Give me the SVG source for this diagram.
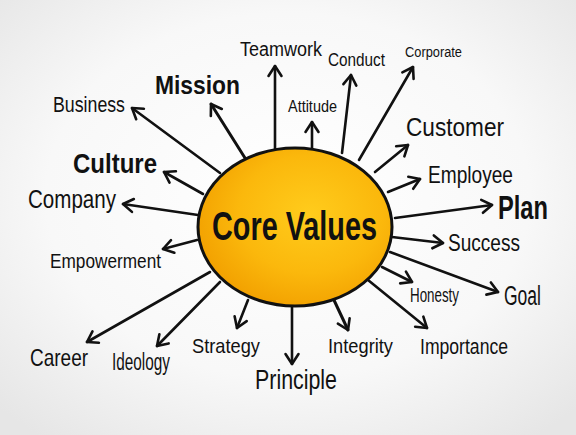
<svg xmlns="http://www.w3.org/2000/svg" width="576" height="435" viewBox="0 0 576 435">
<defs>
<radialGradient id="bg" cx="50%" cy="45%" r="70%">
<stop offset="0" stop-color="#ffffff"/>
<stop offset="0.6" stop-color="#f8f8f8"/>
<stop offset="1" stop-color="#e6e6e6"/>
</radialGradient>
<radialGradient id="core" cx="58%" cy="42%" r="62%">
<stop offset="0" stop-color="#ffcc1c"/>
<stop offset="0.6" stop-color="#fbb80c"/>
<stop offset="1" stop-color="#f2a000"/>
</radialGradient>
<marker id="ah" viewBox="-13 -9 16 18" markerWidth="16" markerHeight="18" refX="0" refY="0" orient="auto" markerUnits="userSpaceOnUse">
<path d="M-10,-6.5 L0,0 L-10,6.5" fill="none" stroke="#111" stroke-width="2.6" stroke-linecap="round" stroke-linejoin="round"/>
</marker>
<style>
.c line{stroke:#111;stroke-width:2.6;stroke-linecap:round;marker-end:url(#ah)}
text{font-family:"Liberation Sans","DejaVu Sans",sans-serif;fill:#111;lengthAdjust:spacingAndGlyphs}
.b{font-weight:700}
</style>
</defs>
<rect width="576" height="435" fill="url(#bg)"/>
<g id="connectors" class="c">
<line x1="220" y1="173" x2="132" y2="108"/>
<line x1="245" y1="158" x2="211" y2="104" style="stroke-width:3"/>
<line x1="275" y1="150" x2="275" y2="66"/>
<line x1="312" y1="148" x2="312" y2="122"/>
<line x1="342" y1="153" x2="351" y2="75"/>
<line x1="359" y1="160" x2="413" y2="67"/>
<line x1="375" y1="172" x2="408" y2="145"/>
<line x1="388" y1="192" x2="420" y2="179"/>
<line x1="395" y1="218" x2="492" y2="205"/>
<line x1="392" y1="237" x2="443" y2="243"/>
<line x1="390" y1="252" x2="498" y2="292"/>
<line x1="382" y1="267" x2="412" y2="282"/>
<line x1="368" y1="280" x2="427" y2="328"/>
<line x1="333" y1="298" x2="348" y2="330" style="stroke-width:3"/>
<line x1="292" y1="306" x2="292" y2="364"/>
<line x1="248" y1="300" x2="237" y2="328"/>
<line x1="220" y1="282" x2="157" y2="346"/>
<line x1="210" y1="272" x2="87" y2="342"/>
<line x1="197" y1="240" x2="163" y2="249"/>
<line x1="198" y1="215" x2="123" y2="204"/>
<line x1="203" y1="194" x2="164" y2="172"/>
</g>
<g id="core-values">
<ellipse cx="295" cy="227" rx="97" ry="79" fill="url(#core)" stroke="#111" stroke-width="3"/>
<text x="212" y="240" font-size="40" class="b" textLength="165" lengthAdjust="spacingAndGlyphs">Core Values</text>
</g>
<g id="business"><text x="53" y="112" font-size="22" textLength="72" lengthAdjust="spacingAndGlyphs">Business</text></g>
<g id="mission"><text x="155" y="94" font-size="26" class="b" textLength="85" lengthAdjust="spacingAndGlyphs">Mission</text></g>
<g id="teamwork"><text x="240" y="56" font-size="20" textLength="82" lengthAdjust="spacingAndGlyphs">Teamwork</text></g>
<g id="attitude"><text x="288" y="112" font-size="17" textLength="49" lengthAdjust="spacingAndGlyphs">Attitude</text></g>
<g id="conduct"><text x="328" y="66" font-size="18" textLength="57" lengthAdjust="spacingAndGlyphs">Conduct</text></g>
<g id="corporate"><text x="405" y="57" font-size="14" textLength="57" lengthAdjust="spacingAndGlyphs">Corporate</text></g>
<g id="customer"><text x="406" y="136" font-size="25" textLength="98" lengthAdjust="spacingAndGlyphs">Customer</text></g>
<g id="employee"><text x="428" y="183" font-size="24" textLength="85" lengthAdjust="spacingAndGlyphs">Employee</text></g>
<g id="plan"><text x="498" y="219" font-size="34" class="b" textLength="50" lengthAdjust="spacingAndGlyphs">Plan</text></g>
<g id="success"><text x="448" y="251" font-size="23" textLength="72" lengthAdjust="spacingAndGlyphs">Success</text></g>
<g id="goal"><text x="504" y="305" font-size="27" textLength="37" lengthAdjust="spacingAndGlyphs">Goal</text></g>
<g id="honesty"><text x="410" y="302" font-size="20" textLength="49" lengthAdjust="spacingAndGlyphs">Honesty</text></g>
<g id="importance"><text x="420" y="354" font-size="22" textLength="88" lengthAdjust="spacingAndGlyphs">Importance</text></g>
<g id="integrity"><text x="328" y="353" font-size="21" textLength="65" lengthAdjust="spacingAndGlyphs">Integrity</text></g>
<g id="principle"><text x="255" y="389" font-size="27" textLength="82" lengthAdjust="spacingAndGlyphs">Principle</text></g>
<g id="strategy"><text x="192" y="353" font-size="21" textLength="68" lengthAdjust="spacingAndGlyphs">Strategy</text></g>
<g id="ideology"><text x="112" y="370" font-size="23" textLength="58" lengthAdjust="spacingAndGlyphs">Ideology</text></g>
<g id="career"><text x="30" y="366" font-size="24" textLength="58" lengthAdjust="spacingAndGlyphs">Career</text></g>
<g id="empowerment"><text x="50" y="268" font-size="21" textLength="111" lengthAdjust="spacingAndGlyphs">Empowerment</text></g>
<g id="company"><text x="28" y="208" font-size="26" textLength="88" lengthAdjust="spacingAndGlyphs">Company</text></g>
<g id="culture"><text x="73" y="173" font-size="28" class="b" textLength="84" lengthAdjust="spacingAndGlyphs">Culture</text></g>
</svg>
